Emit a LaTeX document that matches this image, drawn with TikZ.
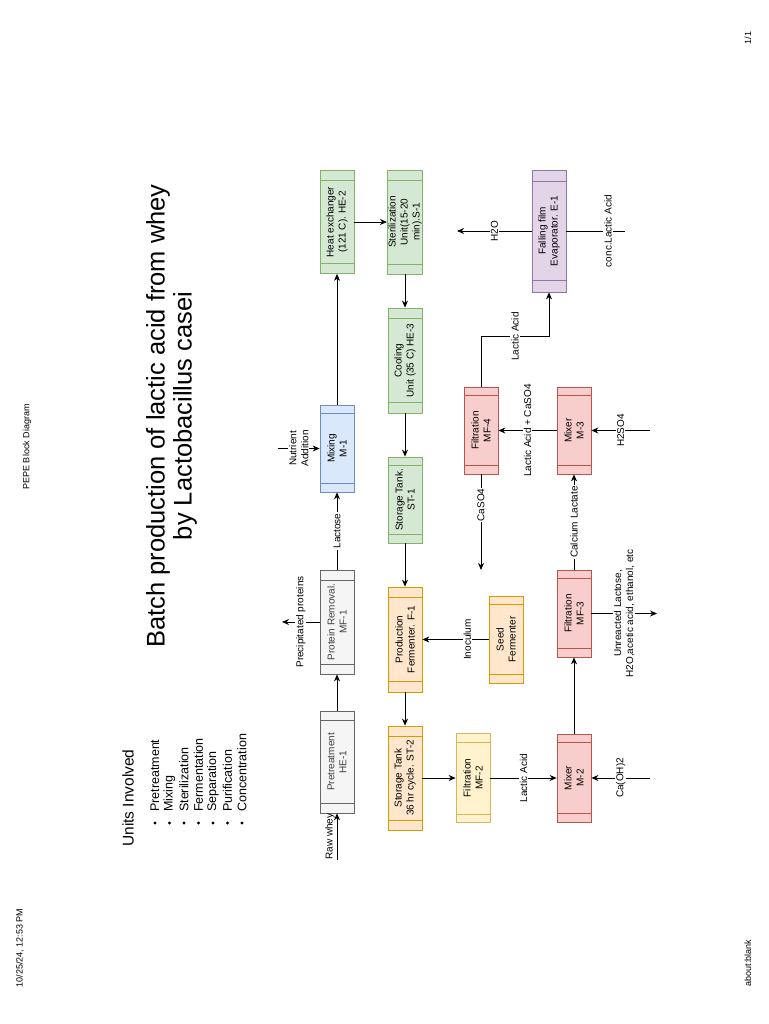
\documentclass[tikz,border=0pt]{standalone}
\usepackage{fontspec}
\setmainfont{Liberation Sans}
\usepackage{xcolor}
\usetikzlibrary{positioning,arrows.meta,calc}

\definecolor{grnfill}{HTML}{D5E8D4}\definecolor{grndraw}{HTML}{82B366}
\definecolor{blufill}{HTML}{DAE8FC}\definecolor{bludraw}{HTML}{6C8EBF}
\definecolor{gryfill}{HTML}{F5F5F5}\definecolor{grydraw}{HTML}{666666}
\definecolor{orgfill}{HTML}{FFE6CC}\definecolor{orgdraw}{HTML}{D79B00}
\definecolor{ylwfill}{HTML}{FFF2CC}\definecolor{ylwdraw}{HTML}{D6B656}
\definecolor{redfill}{HTML}{F8CECC}\definecolor{reddraw}{HTML}{B85450}
\definecolor{prpfill}{HTML}{E1D5E7}\definecolor{prpdraw}{HTML}{9673A6}

\begin{document}
\begin{tikzpicture}[
    x=1pt, y=1pt,
    unitbox/.style={rectangle, line width=0.8pt, align=center, minimum height=34pt,
                    inner sep=1pt, font=\fontsize{10}{12}\selectfont},
    grnbox/.style={unitbox, draw=grndraw, fill=grnfill},
    blubox/.style={unitbox, draw=bludraw, fill=blufill},
    grybox/.style={unitbox, draw=grydraw, fill=gryfill, text=black!75},
    orgbox/.style={unitbox, draw=orgdraw, fill=orgfill},
    ylwbox/.style={unitbox, draw=ylwdraw, fill=ylwfill},
    redbox/.style={unitbox, draw=reddraw, fill=redfill},
    prpbox/.style={unitbox, draw=prpdraw, fill=prpfill},
    arrow/.style={-{Stealth[length=7pt,width=6pt]}, line width=0.8pt},
    plain/.style={line width=0.8pt},
    clabel/.style={font=\fontsize{10}{12}\selectfont, fill=white, inner sep=1pt, align=center},
    hdr/.style={font=\fontsize{9}{10}\selectfont, inner sep=0pt}
]
\fill[white] (0,0) rectangle (768,1024);
\useasboundingbox (0,0) rectangle (768,1024);

% the sheet is printed turned by 90 degrees
\begin{scope}[shift={(768,0)}, rotate=90, transform shape]

\node[hdr] (hdrtitle) at (577,741) {PEPE Block Diagram};
\node[hdr] (hdrdate)  at (76,748)  {10/25/24, 12:53 PM};
\node[hdr] (hdrurl)   at (61,20)   {about:blank};
\node[hdr] (hdrpage)  at (986,20)  {1/1};

\node[align=center, font=\fontsize{25.5}{27}\selectfont] (title) at (608,596.5)
    {Batch production of lactic acid from whey\\by Lactobacillus casei};

\node[anchor=west, inner sep=0pt, font=\fontsize{15.5}{18}\selectfont] (units) at (177,640) {Units Involved};
\foreach \t [count=\i] in {Pretreatment,Mixing,Sterilization,Fermentation,Separation,Purification,Concentration} {
  \fill (201,627.5-14.5*\i) circle (1.7);
  \node[anchor=west, inner sep=0pt, font=\fontsize{12.5}{14}\selectfont] (item\i) at (212,627.5-14.5*\i) {\t};
}

% units
\node[grybox, minimum width=102pt] (he1)  at (262,431)   {Pretreatment\\HE-1};
\node[grybox, minimum width=104pt] (mf1)  at (402,431)   {Protein Removal.\\MF-1};
\node[blubox, minimum width=87pt]  (m1)   at (575.5,431) {Mixing\\M-1};
\node[grnbox, minimum width=103pt] (he2)  at (802,431)   {Heat exchanger\\(121 C). HE-2};
\node[grnbox, minimum width=104pt] (s1)   at (802,363)   {Sterilization\\Unit(15-20\\min).S-1};
\node[grnbox, minimum width=105pt] (he3)  at (663.5,363) {Cooling\\Unit (35 C) HE-3};
\node[grnbox, minimum width=86pt]  (st1)  at (524,363)   {Storage Tank.\\ST-1};
\node[orgbox, minimum width=105pt] (f1)   at (384.5,363) {Production\\Fermenter. F-1};
\node[orgbox, minimum width=104pt] (st2)  at (246,363)   {Storage Tank\\36 hr cycle. ST-2};
\node[ylwbox, minimum width=89pt]  (mf2)  at (246,295)   {Filtration\\MF-2};
\node[orgbox, minimum width=87pt]  (seed) at (384.5,262) {Seed\\Fermenter};
\node[redbox, minimum width=88pt]  (m2)   at (246,194)   {Mixer\\M-2};
\node[redbox, minimum width=87pt]  (mf3)  at (410.5,194) {Filtration\\MF-3};
\node[redbox, minimum width=87pt]  (m3)   at (593.5,194) {Mixer\\M-3};
\node[redbox, minimum width=87pt]  (mf4)  at (593.5,287) {Filtration\\MF-4};
\node[prpbox, minimum width=122pt] (e1)   at (793,219)   {Falling film\\Evaporator. E-1};

\foreach \n/\c in {he1/grydraw, mf1/grydraw, m1/bludraw, he2/grndraw, s1/grndraw, he3/grndraw,
                   st1/grndraw, f1/orgdraw, st2/orgdraw, mf2/ylwdraw, seed/orgdraw, m2/reddraw,
                   mf3/reddraw, m3/reddraw, mf4/reddraw, e1/prpdraw}
  \draw[draw=\c, line width=0.8pt]
    ($(\n.north west)!0.1!(\n.north east)$) -- ($(\n.south west)!0.1!(\n.south east)$)
    ($(\n.north west)!0.9!(\n.north east)$) -- ($(\n.south west)!0.9!(\n.south east)$);

% free ends
\coordinate (rawin)    at (164,431);
\coordinate (precout)  at (402,486);
\coordinate (nutrin)   at (575.5,490);
\coordinate (limein)   at (246,118);
\coordinate (wasteout) at (410.5,111);
\coordinate (acidin)   at (593.5,118);
\coordinate (gypout)   at (454,287);
\coordinate (waterout) at (793,311);
\coordinate (prodout)  at (793,143);

\draw[arrow] (rawin) -- node[above, inner sep=2pt, font=\fontsize{10}{12}\selectfont] {Raw whey} (he1.west);
\draw[arrow] (he1.east) -- (mf1.west);
\draw[arrow] (mf1.north) -- node[clabel] {Precipitated proteins} (precout);
\draw[arrow] (mf1.east) -- node[clabel] {Lactose} (m1.west);
\draw[arrow] (nutrin) -- node[clabel] {Nutrient\\Addition} (m1.north);
\draw[arrow] (m1.east) -- (he2.west);
\draw[arrow] (he2.south) -- (s1.north);
\draw[arrow] (s1.west) -- (he3.east);
\draw[arrow] (he3.west) -- (st1.east);
\draw[arrow] (st1.west) -- (f1.east);
\draw[arrow] (f1.west) -- (st2.east);
\draw[arrow] (seed.north) -- node[clabel, pos=0.32] {Inoculum} (f1.south);
\draw[arrow] (st2.south) -- (mf2.north);
\draw[arrow] (mf2.south) -- node[clabel] {Lactic Acid} (m2.north);
\draw[arrow] (limein) -- node[clabel] {Ca(OH)2} (m2.south);
\draw[arrow] (m2.east) -- (mf3.west);
\draw[arrow] (mf3.south) -- node[clabel] {Unreacted Lactose,\\H2O,acetic acid, ethanol, etc} (wasteout);
\draw[arrow] (mf3.east) -- node[clabel] {Calcium Lactate} (m3.west);
\draw[arrow] (acidin) -- node[clabel] {H2SO4} (m3.south);
\draw[arrow] (m3.north) -- node[clabel] {Lactic Acid + CaSO4} (mf4.south);
\draw[arrow] (mf4.west) -- node[clabel, pos=0.32] {CaSO4} (gypout);
\draw[arrow] (mf4.east) -- ++(50,0) |- node[clabel, pos=0.25] {Lactic Acid} (e1.west);
\draw[arrow] (e1.north) -- node[clabel] {H2O} (waterout);
\draw[plain] (e1.south) -- node[clabel, pos=0.71] {conc.Lactic Acid} (prodout);

\end{scope}
\end{tikzpicture}
\end{document}
